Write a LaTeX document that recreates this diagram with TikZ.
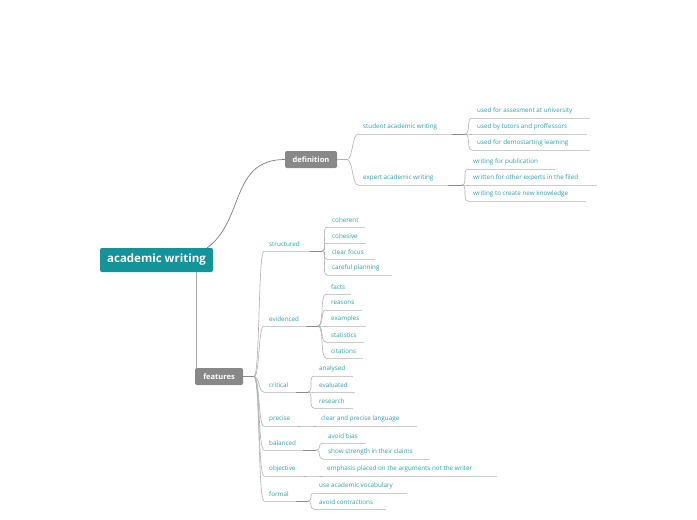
\documentclass[tikz,border=0pt]{standalone}
\usepackage{fontspec}
\setmainfont{Open Sans}
\definecolor{teal1}{HTML}{13939A}
\definecolor{txt}{HTML}{2AA2AB}
\definecolor{gbox}{HTML}{888888}
\tikzset{
 leaf/.style={inner sep=0pt,text=txt,font=\fontsize{6.3}{7}\selectfont,anchor=west},
 uline/.style={draw=black!20,line width=0.6pt},
 conn/.style={draw=black!30,line width=0.6pt},
 stub/.style={draw=black!45,line width=1pt},
 mainbox/.style={rounded corners=2pt,text=white,font=\bfseries,inner sep=0pt}
}
\newcommand\lf[6]{%
 \node[leaf] (#1) at (#2,#3) {#4};
 \coordinate (#1s) at (#2-5,#3+7); \coordinate (#1e) at (#5,#3+7);
 \draw[uline] (#1s) -- (#1e);
 \draw[conn] (#6) .. controls +(6,0) and +(-6,0) .. (#1s);}
\newcommand\jn[2]{\coordinate (#1j) at (#2,0|-#1e); \draw[stub] (#1e) -- (#1j);}
\begin{document}
\begin{tikzpicture}[x=1pt,y=-1pt]
\useasboundingbox[fill=white] (0,0) rectangle (697,520);
% root
\node[mainbox,fill=teal1,minimum width=113pt,minimum height=24pt,font=\bfseries\fontsize{11.5}{13}\selectfont] (root) at (156.5,260) {academic writing};
\node[mainbox,fill=gbox,minimum width=52pt,minimum height=17pt,font=\bfseries\fontsize{7.5}{9}\selectfont] (def) at (311,159.5) {definition};
\node[mainbox,fill=gbox,minimum width=48pt,minimum height=17pt,font=\bfseries\fontsize{7.5}{9}\selectfont] (feat) at (219,376.5) {features};
\coordinate (r1) at (207,248); \coordinate (r2) at (196,272);
\draw[draw=black!50,line width=0.7pt] (r1) .. controls (245,220) and (230,159.5) .. (def.west);
\draw[draw=black!35,line width=0.8pt] (r2) -- (196,368);
\coordinate (dj) at (347,159.5); \draw[conn] (def.east) -- (dj);
\coordinate (fj) at (254,376.5); \draw[stub] (feat.east) -- (fj);
% definition
\lf{saw}{363}{127}{student academic writing}{452}{dj} \jn{saw}{465}
\lf{a1}{477}{111}{used for assesment at university}{590}{sawj}
\lf{a2}{477}{127}{used by tutors and proffessors}{587}{sawj}
\lf{a3}{477}{143}{used for demostarting learning}{590}{sawj}
\lf{eaw}{363}{178}{expert academic writing}{448}{dj} \jn{eaw}{462}
\lf{b1}{473}{162}{writing for publication}{555}{eawj}
\lf{b2}{473}{178}{written for other experts in the filed}{597}{eawj}
\lf{b3}{473}{194}{writing to create new knowledge}{586}{eawj}
% features
\lf{st}{269}{244}{structured}{310}{fj} \jn{st}{322}
\lf{c1}{332}{220}{coherent}{365}{stj}
\lf{c2}{332}{236}{cohesive}{366}{stj}
\lf{c3}{332}{252}{clear focus}{375}{stj}
\lf{c4}{332}{268}{careful planning}{392}{stj}
\lf{ev}{269}{319}{evidenced}{306}{fj} \jn{ev}{318}
\lf{d1}{331}{287}{facts}{351}{evj}
\lf{d2}{331}{303}{reasons}{362}{evj}
\lf{d3}{331}{319}{examples}{366}{evj}
\lf{d4}{331}{335}{statistics}{364}{evj}
\lf{d5}{331}{351}{citations}{363}{evj}
\lf{cr}{269}{385}{critical}{296}{fj} \jn{cr}{308}
\lf{e1}{319}{369}{analysed}{353}{crj}
\lf{e2}{319}{385}{evaluated}{355}{crj}
\lf{e3}{319}{401}{research}{353}{crj}
\lf{pr}{269}{419}{precise}{298}{fj}
\lf{f1}{321}{419}{clear and precise language}{417}{pre}
\lf{ba}{269}{443}{balanced}{303}{fj} \jn{ba}{316}
\lf{g1}{328}{436}{avoid bias}{366}{baj}
\lf{g2}{328}{452}{show strength in their claims}{430}{baj}
\lf{ob}{269}{469}{objective}{304}{fj}
\lf{h1}{327}{469}{emphasis placed on the arguments not the writer}{497}{obe}
\lf{fo}{269}{494}{formal}{296}{fj} \jn{fo}{308}
\lf{i1}{319}{486}{use academic vocabulary}{407}{foj}
\lf{i2}{319}{502}{avoid contractions}{386}{foj}
\end{tikzpicture}
\end{document}
